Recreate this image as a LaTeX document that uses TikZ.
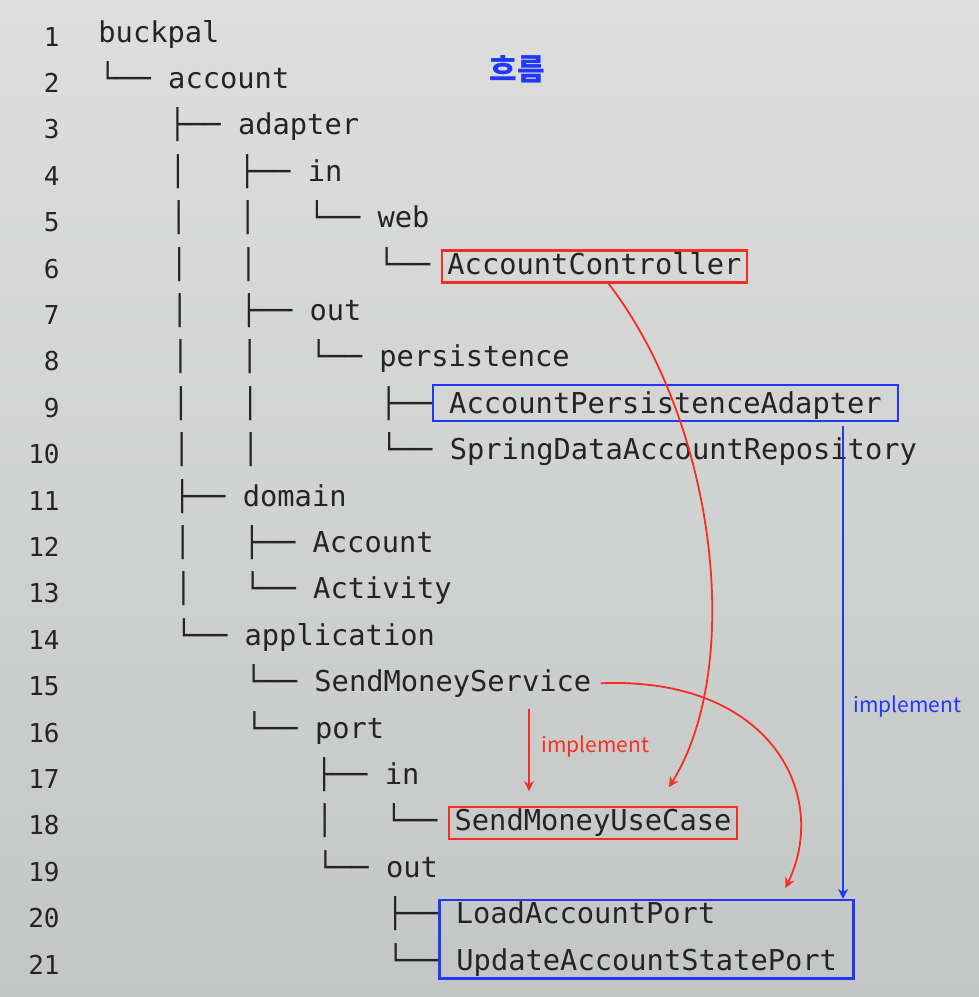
\documentclass[tikz,border=0pt]{standalone}
\usepackage{fontspec}
\setmonofont{DejaVu Sans Mono}
\newfontfamily\krfont{Noto Sans CJK KR}
\usetikzlibrary{
  arrows.meta,
  fit
}
\definecolor{paper}{RGB}{221,222,221}
\definecolor{paperdark}{RGB}{196,198,198}
\definecolor{ink}{RGB}{36,36,36}
\definecolor{markred}{RGB}{244,46,34}
\definecolor{markblue}{RGB}{32,56,250}
% tree glyphs, four columns each
\newcommand{\tpipe}{│\ \ \ }
\newcommand{\tblank}{\ \ \ \ }
\newcommand{\ttee}{├──}
\newcommand{\tlast}{└──}
\tikzset{
  code/.style={
    font=\ttfamily\fontsize{14.37}{17}\selectfont,
    text=ink,
    inner sep=0pt,
    text height=0.76em,
    text depth=0pt,
    anchor=base west
  },
  lineno/.style={
    font=\ttfamily\fontsize{13}{16}\selectfont,
    text=ink,
    inner sep=0pt,
    anchor=base east
  },
  red box/.style={draw=markred,line width=1.1pt,inner xsep=2.5pt,inner ysep=4pt},
  blue box/.style={draw=markblue,line width=1.1pt,inner xsep=8pt,inner ysep=4pt},
  red flow/.style={-{Stealth[length=5pt,width=5pt]},line width=0.9pt,draw=markred},
  blue flow/.style={-{Stealth[length=5pt,width=5pt]},line width=0.9pt,draw=markblue},
  note/.style={font=\krfont\fontsize{10.5}{12}\selectfont,anchor=west,inner sep=0pt}
}

\begin{document}
\begin{tikzpicture}[x=0.5pt,y=-0.5pt]
  \shade[top color=paper,bottom color=paperdark] (0,0) rectangle (979,997);
  \useasboundingbox (0,0) rectangle (979,997);

  \foreach \row/\pre/\col/\txt in {
    1/{}/0/buckpal,
    2/{\tlast}/4/account,
    3/{\tblank\ttee}/8/adapter,
    4/{\tblank\tpipe\ttee}/12/in,
    5/{\tblank\tpipe\tpipe\tlast}/16/web,
    6/{\tblank\tpipe\tpipe\tblank\tlast}/20/AccountController,
    7/{\tblank\tpipe\ttee}/12/out,
    8/{\tblank\tpipe\tpipe\tlast}/16/persistence,
    9/{\tblank\tpipe\tpipe\tblank\ttee}/20/AccountPersistenceAdapter,
    10/{\tblank\tpipe\tpipe\tblank\tlast}/20/SpringDataAccountRepository,
    11/{\tblank\ttee}/8/domain,
    12/{\tblank\tpipe\ttee}/12/Account,
    13/{\tblank\tpipe\tlast}/12/Activity,
    14/{\tblank\tlast}/8/application,
    15/{\tblank\tblank\tlast}/12/SendMoneyService,
    16/{\tblank\tblank\tlast}/12/port,
    17/{\tblank\tblank\tblank\ttee}/16/in,
    18/{\tblank\tblank\tblank\tpipe\tlast}/20/SendMoneyUseCase,
    19/{\tblank\tblank\tblank\tlast}/16/out,
    20/{\tblank\tblank\tblank\tblank\ttee}/20/LoadAccountPort,
    21/{\tblank\tblank\tblank\tblank\tlast}/20/UpdateAccountStatePort} {
    \pgfmathsetmacro\xo{98+0.6*(\row-1)}
    \pgfmathsetmacro\yo{42+46.4*(\row-1)}
    \node[lineno] (n\row) at (60,\yo+4) {\row};
    \node[code] (p\row) at (\xo,\yo) {\pre};
    \node[code] (t\row) at (\xo+17.3*\col,\yo) {\txt};
  }

  \node[font=\krfont\bfseries\fontsize{15}{18}\selectfont,text=markblue] (flow) at (517,69) {흐름};

  % marked classes
  \node[red box,fit=(t6)] (ctrl) {};
  \node[blue box,fit=(t9),inner ysep=5pt,yshift=1.5pt] (apa) {};
  \node[red box,fit=(t18)] (ucase) {};
  \node[blue box,fit=(t20) (t21)] (ports) {};

  \coordinate (ia) at (529,0);
  \coordinate (bx) at (843,0);

  \draw[red flow,shorten <=8.5pt,shorten >=7.5pt] (t15.base -| ia) -- (ucase.north -| ia);
  \node[note,text=markred] (imp1) at (541,747) {implement};

  \draw[blue flow,shorten <=2pt] (apa.south -| bx) -- (ports.north -| bx);
  \node[note,text=markblue] (imp2) at (853,707) {implement};

  \draw[red flow] ([xshift=7pt]ctrl.south)
    .. controls +(107,139) and +(76,-122) .. ([xshift=38pt,yshift=9.5pt]ucase.north);
  \draw[red flow] ([xshift=4.5pt,yshift=2pt]t15.mid east)
    .. controls +(170,-7) and +(45,-93) .. ([xshift=69.5pt,yshift=5.5pt]ports.north);
\end{tikzpicture}
\end{document}
